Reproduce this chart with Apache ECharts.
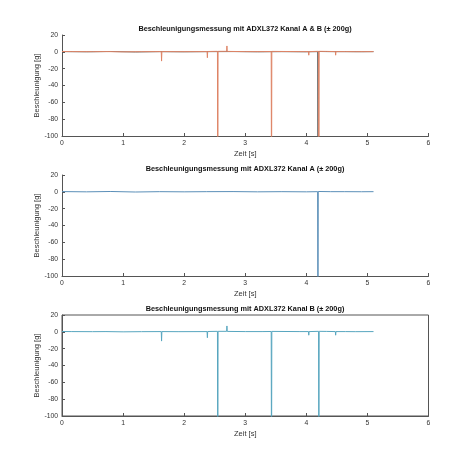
<!DOCTYPE html>
<html><head><meta charset="utf-8">
<script src="https://cdn.jsdelivr.net/npm/echarts@6/dist/echarts.min.js"></script>
<style>html,body{margin:0;padding:0;background:#fff}#c{width:474px;height:467px}</style>
</head><body><div id="c"></div>
<script>
// Titles and labels
const titles = [
  'Beschleunigungsmessung mit ADXL372 Kanal A & B (± 200g)',
  'Beschleunigungsmessung mit ADXL372 Kanal A (± 200g)',
  'Beschleunigungsmessung mit ADXL372 Kanal B (± 200g)'
];
const xLabel = 'Zeit [s]';
const yLabel = 'Beschleunigung [g]';

// Kanal A: time [s] and acceleration [g]
const timeA  = [0, 0.40, 0.80, 1.20, 1.60, 2.00, 2.370, 2.380, 2.390, 2.80, 3.20, 3.60, 4.000, 4.185, 4.190, 4.195, 4.40, 4.620, 4.630, 4.640, 4.90, 5.10];
const accelA = [0.3, 0.0, 0.4, -0.2, 0.2, 0.0, 0.2, -1.5, 0.2, 0.3, 0.0, 0.2, 0.0, 0.2, -200, 0.4, 0.2, 0.2, -2.0, 0.2, 0.1, 0.2];

// Kanal B: time [s] and acceleration [g]
const timeB  = [0, 0.150, 0.155, 0.160, 0.50, 0.720, 0.725, 0.730, 1.00, 1.300, 1.305, 1.310,
                1.625, 1.630, 1.635, 1.900, 1.905, 1.910, 2.375, 2.380, 2.385, 2.545, 2.550, 2.555,
                2.695, 2.700, 2.705, 3.00, 3.275, 3.280, 3.285, 3.425, 3.430, 3.435,
                3.895, 3.900, 3.905, 4.035, 4.040, 4.045, 4.200, 4.205, 4.210,
                4.335, 4.340, 4.345, 4.475, 4.480, 4.485, 4.645, 4.650, 4.655, 4.80, 5.10];
const accelB = [0.4, 0.3, -1.5, 0.3, 0.2, 0.3, -1.0, 0.3, 0.0, 0.2, -1.0, 0.2,
                0.3, -11, 0.3, 0.2, -2.0, 0.2, 0.3, -7, 0.4, 0.6, -200, 0.6,
                0.6, 7, 0.5, 0.3, 0.3, -2.0, 0.3, 0.4, -200, 0.5,
                0.3, -1.5, 0.3, 0.3, -4, 0.3, 0.6, -200, 0.6,
                0.5, 2.5, 0.5, 0.3, -4, 0.3, 0.3, -2.0, 0.3, 0.2, 0.3];

const yTicks = [-100, -80, -60, -40, -20, 0, 20];
const xTicks = [0, 1, 2, 3, 4, 5, 6];

const pairs = (t, v) => t.map((x, i) => [x, v[i]]);

const FONT = 'Liberation Sans, Arial, sans-serif';
const axisColor = '#555';
const tops = [35, 175, 315];
const H = 101;

const grids = [], xAxes = [], yAxes = [], titleOpts = [];
tops.forEach((top, i) => {
  grids.push({left: 62, right: 45.5, top: top, height: H, show: i === 2,
              borderColor: axisColor, borderWidth: 1, backgroundColor: 'transparent'});
  titleOpts.push({text: titles[i], left: 245, top: top - 10, textAlign: 'center', padding: 0,
    textStyle: {fontFamily: FONT, fontSize: 7.3, fontWeight: 'bold', color: '#111'}});
  xAxes.push({type: 'value', gridIndex: i, min: xTicks[0], max: xTicks[xTicks.length - 1], interval: 1,
    name: xLabel, nameLocation: 'middle', nameGap: 14, nameMoveOverlap: false,
    nameTextStyle: {fontFamily: FONT, fontSize: 7.5, color: '#333'},
    axisLine: {show: true, onZero: false, lineStyle: {color: axisColor, width: 1}},
    axisTick: {show: true, inside: true, length: 3, lineStyle: {color: axisColor}},
    axisLabel: {fontFamily: FONT, fontSize: 6.8, color: '#333', margin: 4},
    splitLine: {show: false}});
  yAxes.push({type: 'value', gridIndex: i, min: yTicks[0], max: yTicks[yTicks.length - 1], interval: 20,
    name: yLabel, nameLocation: 'middle', nameGap: 21, nameRotate: 90, nameMoveOverlap: false,
    nameTextStyle: {fontFamily: FONT, fontSize: 7.5, color: '#333'},
    axisLine: {show: true, onZero: false, lineStyle: {color: axisColor, width: 1}},
    axisTick: {show: true, inside: true, length: 3, lineStyle: {color: axisColor}},
    axisLabel: {fontFamily: FONT, fontSize: 6.8, color: '#333', margin: 4},
    splitLine: {show: false}});
});

const lineSeries = (name, data, idx, color, z) => ({
  name, type: 'line', xAxisIndex: idx, yAxisIndex: idx, data, showSymbol: false, symbol: 'none',
  clip: true, z: z, animation: false, lineStyle: {color: color, width: 1}
});

const series = [
  lineSeries('Kanal A', pairs(timeA, accelA), 0, '#6b6b6b', 2),
  lineSeries('Kanal B', pairs(timeB, accelB), 0, '#de8466', 3),
  lineSeries('Kanal A', pairs(timeA, accelA), 1, '#5b8fb8', 2),
  lineSeries('Kanal B', pairs(timeB, accelB), 2, '#58a6bf', 2)
];

const chart = echarts.init(document.getElementById('c'), null, {renderer: 'canvas'});
chart.setOption({
  backgroundColor: '#fff', animation: false,
  title: titleOpts, grid: grids, xAxis: xAxes, yAxis: yAxes, series
});
</script></body></html>
